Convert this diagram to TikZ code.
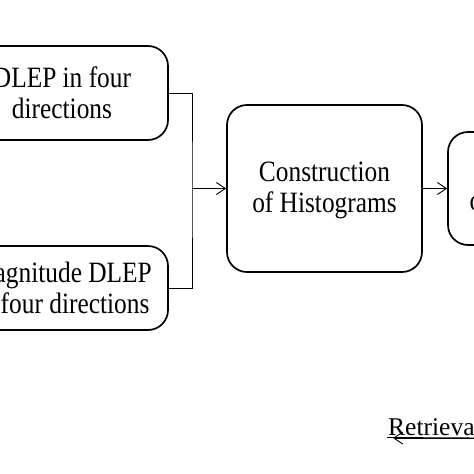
\documentclass[tikz,border=0pt]{standalone}
\usepackage{fontspec}
\setmainfont{Liberation Serif}[FakeStretch=0.86]
\newfontfamily\plainserif{Liberation Serif}
\usetikzlibrary{arrows.meta}

\tikzset{
	stage/.style={draw, line width=1.7pt, rounded corners=20pt, align=center,
		font=\fontsize{29.5}{31}\selectfont},
	flow/.style={line width=0.9pt, -{Straight Barb[length=9pt,width=12pt,line width=0.9pt]}}
}

\begin{document}
\begin{tikzpicture}[x=1pt,y=-1pt]

		\useasboundingbox (0,0) rectangle (474,474);

		% input boxes
		\node[stage, minimum width=212pt, minimum height=94pt] (dlep) at (62,93) {DLEP in four\\directions};
		\node[stage, minimum width=212pt, minimum height=84pt] (mag) at (62,288) {Magnitude DLEP\\in four directions};

		% histograms
		\node[stage, minimum width=195pt, minimum height=167pt, text height=55pt] (hist) at (324.5,188.5) {Construction\\of Histograms};

		% next box (cut off)
		\node[stage, minimum width=160pt, minimum height=113pt] (next) at (528,188.5) {};
		\node[anchor=base west, font=\fontsize{29.5}{31}\selectfont, inner sep=0pt] (nexttxt) at (469.5,210) {c};

		% connectors
		\coordinate (bus) at (192,188.5);
		\draw[line width=0.9pt] (dlep.east) -| (bus) |- (mag.east);
		\draw[flow] (bus) -- (hist.west);
		\draw[flow] (hist.east) -- (next.west);

		% retrieval
		\node[anchor=base west, inner sep=0pt, font=\plainserif\fontsize{25.5}{30}\selectfont] (retr) at (388,435) {Retrieval};
		\coordinate (retrin) at (480,438);
		\coordinate (retrout) at (393,438);
		\coordinate (ulstart) at (387,437.5);
		\draw[line width=0.9pt] (ulstart) -- (retrin);
		\draw[flow] (retrin) -- (retrout);

\end{tikzpicture}
\end{document}
